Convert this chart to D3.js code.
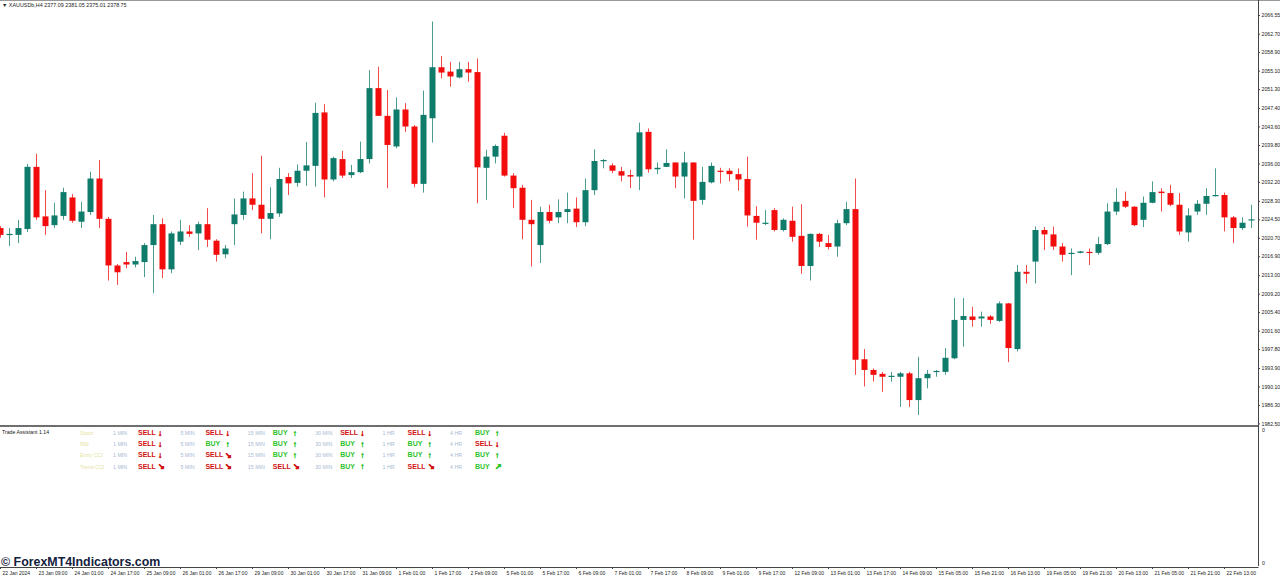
<!DOCTYPE html>
<html>
<head>
<meta charset="utf-8">
<script src="https://cdn.jsdelivr.net/npm/d3@7"></script>
<style>
  body { margin: 0; background: #fff; }
  svg { display: block; }
  text { font-family: "Liberation Sans", Arial, sans-serif; }
</style>
</head>
<body>
<svg id="chart" width="1280" height="577"></svg>
<script>
// XAUUSDb H4 candles
const opens = [2022.7,2021.4,2021.3,2022.5,2035.3,2025.1,2023.3,2025.2,2029.0,2024.0,
  2026.0,2032.9,2024.6,2015.0,2015.7,2015.2,2015.7,2019.2,2023.5,2014.2,
  2019.9,2022.0,2021.6,2023.5,2020.1,2017.3,2023.5,2025.4,2028.8,2027.5,
  2024.6,2025.7,2033.2,2032.0,2034.5,2035.5,2046.5,2032.7,2036.9,2033.6,
  2034.2,2036.9,2051.5,2045.8,2039.5,2047.1,2043.6,2031.8,2045.3,2055.8,
  2054.9,2053.7,2055.4,2054.8,2035.1,2037.4,2041.7,2033.5,2031.0,2024.4,
  2019.2,2026.0,2024.9,2026.0,2026.7,2023.9,2030.5,2036.5,2035.6,2034.4,
  2033.6,2033.3,2042.5,2034.8,2035.3,2036.2,2033.3,2036.2,2028.5,2032.1,
  2034.5,2034.5,2033.8,2032.8,2025.2,2023.6,2026.4,2022.3,2024.2,2021.1,
  2014.9,2021.5,2019.6,2018.9,2023.7,2026.6,1995.7,1993.5,1992.7,1992.2,
  1992.1,1992.8,1987.3,1991.8,1993.1,1993.1,1995.9,2003.8,2004.5,2004.1,
  2004.5,2003.6,2007.2,1997.8,2013.7,2015.8,2022.3,2021.4,2018.9,2017.4,
  2017.6,2017.8,2017.6,2019.4,2026.1,2028.3,2027.1,2024.4,2027.9,2030.2,
  2029.9,2027.5,2021.8,2026.1,2027.7,2029.3,2029.5,2024.9,2022.7,2024.4];
const highs = [2023.1,2022.7,2024.4,2035.9,2038.0,2030.5,2027.9,2031.0,2029.7,2028.1,
  2034.3,2036.7,2025.0,2015.3,2017.8,2016.8,2019.6,2025.4,2024.7,2022.0,
  2024.4,2023.3,2024.0,2026.8,2020.4,2019.2,2028.8,2030.2,2034.0,2037.6,
  2031.1,2035.1,2034.0,2035.8,2040.4,2048.5,2048.2,2037.4,2038.6,2035.7,
  2040.5,2055.2,2055.9,2051.1,2049.6,2048.4,2043.9,2051.0,2065.2,2058.1,
  2056.9,2056.9,2056.9,2057.6,2038.8,2039.9,2042.3,2034.0,2031.6,2028.5,
  2027.1,2027.5,2028.6,2030.0,2029.0,2032.9,2038.9,2036.9,2036.0,2035.3,
  2034.7,2044.4,2043.2,2036.2,2038.9,2036.2,2038.4,2036.2,2035.3,2036.2,
  2035.1,2035.0,2035.0,2037.4,2027.2,2026.4,2026.8,2024.7,2027.1,2027.6,
  2021.6,2021.7,2021.3,2024.4,2028.1,2032.9,1997.8,1993.8,1993.1,1993.1,
  1993.1,1993.1,1996.2,1993.5,1993.5,1998.0,2008.3,2008.3,2006.5,2005.5,
  2004.8,2007.6,2007.3,2015.1,2015.1,2023.0,2022.9,2023.0,2019.6,2018.5,
  2018.0,2018.5,2020.9,2027.8,2030.9,2030.2,2027.2,2029.2,2032.3,2030.9,
  2031.6,2029.9,2026.8,2028.5,2030.9,2035.0,2030.0,2025.2,2024.9,2027.5];
const lows = [2020.7,2019.0,2019.6,2021.9,2024.4,2021.3,2022.7,2024.4,2023.8,2022.7,
  2025.4,2022.7,2011.9,2011.0,2014.4,2014.6,2012.6,2009.3,2012.4,2013.4,
  2019.2,2020.9,2018.2,2018.8,2015.8,2016.5,2019.2,2024.4,2026.4,2021.6,
  2020.4,2025.0,2029.5,2031.2,2031.4,2031.2,2029.0,2032.3,2033.0,2033.0,
  2034.0,2036.0,2045.8,2030.9,2039.1,2042.5,2031.1,2030.0,2040.3,2053.5,
  2051.8,2053.5,2052.8,2027.8,2028.5,2036.0,2033.3,2026.8,2020.4,2014.8,
  2015.5,2023.7,2023.7,2023.7,2022.9,2023.1,2029.5,2035.0,2034.0,2032.3,
  2030.9,2030.5,2034.1,2033.8,2035.3,2030.9,2028.8,2020.3,2027.5,2031.9,
  2031.9,2032.3,2030.4,2023.0,2020.3,2023.3,2022.0,2022.0,2019.9,2013.3,
  2011.9,2018.8,2018.3,2016.8,2023.3,1992.5,1990.1,1991.1,1989.0,1991.1,
  1985.9,1985.9,1984.2,1989.7,1992.1,1992.5,1995.7,1998.3,2002.4,2002.4,
  2003.0,2003.4,1995.1,1997.3,2011.3,2011.3,2018.2,2018.2,2015.8,2013.0,
  2017.5,2015.1,2017.2,2019.2,2025.4,2026.8,2023.1,2022.9,2027.8,2026.1,
  2027.2,2021.3,2019.9,2025.4,2025.4,2029.2,2022.0,2019.6,2022.3,2022.7];
const closes = [2021.3,2021.5,2022.7,2035.3,2024.9,2023.1,2025.3,2030.1,2024.2,2026.1,
  2032.9,2024.6,2015.0,2013.6,2015.2,2015.9,2019.2,2023.5,2014.2,2021.6,
  2022.0,2021.5,2023.5,2020.3,2017.2,2018.5,2025.5,2028.8,2027.5,2024.6,
  2025.8,2032.8,2031.9,2034.5,2035.6,2046.4,2032.7,2037.1,2033.5,2034.2,
  2036.9,2051.5,2045.8,2039.8,2047.1,2043.6,2031.8,2046.0,2055.8,2054.7,
  2053.9,2055.4,2054.7,2035.2,2037.4,2039.6,2033.5,2030.9,2024.4,2023.5,
  2026.0,2024.2,2026.0,2026.6,2023.9,2030.5,2036.5,2036.7,2034.5,2033.5,
  2033.3,2042.4,2034.8,2035.1,2036.1,2033.3,2036.2,2028.3,2032.2,2035.5,
  2034.3,2033.8,2032.7,2025.3,2023.8,2023.8,2022.3,2024.4,2020.9,2014.9,
  2021.5,2019.9,2018.8,2023.7,2026.6,1995.6,1993.5,1992.5,1992.1,1992.3,
  1992.8,1987.3,1991.8,1992.7,1993.3,1996.0,2003.8,2004.6,2003.8,2004.5,
  2003.8,2007.2,1998.0,2013.7,2013.3,2022.3,2021.4,2018.9,2017.2,2017.6,
  2017.9,2017.6,2019.4,2026.1,2028.1,2027.1,2023.3,2027.9,2030.1,2029.9,
  2027.5,2022.0,2025.3,2027.7,2029.3,2029.5,2024.9,2022.7,2023.8,2024.5];

// one label every 4 bars
const timeLabels = ["22 Jan 2024","23 Jan 09:00","24 Jan 01:00","24 Jan 17:00","25 Jan 09:00",
  "26 Jan 01:00","26 Jan 17:00","29 Jan 09:00","30 Jan 01:00","30 Jan 17:00","31 Jan 09:00",
  "1 Feb 01:00","1 Feb 17:00","2 Feb 09:00","5 Feb 01:00","5 Feb 17:00","6 Feb 09:00",
  "7 Feb 01:00","7 Feb 17:00","8 Feb 09:00","9 Feb 01:00","9 Feb 17:00","12 Feb 09:00",
  "13 Feb 01:00","13 Feb 17:00","14 Feb 09:00","15 Feb 05:00","15 Feb 21:00","16 Feb 13:00",
  "19 Feb 05:00","19 Feb 21:00","20 Feb 13:00","21 Feb 05:00","21 Feb 21:00","22 Feb 13:00"];

const priceTicks = [1982.50,1986.30,1990.10,1993.90,1997.80,2001.60,2005.40,2009.20,2013.00,
  2016.90,2020.70,2024.50,2028.30,2032.20,2036.00,2039.80,2043.60,2047.40,2051.30,2055.10,
  2058.90,2062.70,2066.55];

// Trade Assistant panel
const tfLabels = ["1 MIN","5 MIN","15 MIN","30 MIN","1 HR","4 HR"];
const indNames = ["Stoch","RSI","Entry CCI","Trend CCI"];
const signals = [
  ["SELL","SELL","BUY","SELL","SELL","BUY"],
  ["SELL","BUY","BUY","BUY","BUY","SELL"],
  ["SELL","SELL","BUY","BUY","BUY","BUY"],
  ["SELL","SELL","SELL","BUY","SELL","BUY"]];
const arrows = [
  ["\u2193","\u2193","\u2191","\u2193","\u2193","\u2191"],
  ["\u2193","\u2191","\u2191","\u2191","\u2191","\u2193"],
  ["\u2193","\u2198","\u2191","\u2191","\u2191","\u2191"],
  ["\u2198","\u2198","\u2198","\u2191","\u2198","\u2197"]];

const bull = "#0f7b6a", bear = "#f20c0c";
const axisX = 1258, mainBottom = 426, subBottom = 566;

const svg = d3.select("#chart");

const x = d3.scaleLinear().domain([0, opens.length - 1]).range([0, 1251]);
const y = d3.scaleLinear().domain([1982.5, 2062.7]).range([423.4, 33.7]);

const bars = opens.map((o, i) => ({i, o, h: highs[i], l: lows[i], c: closes[i]}));

// frame
svg.append("line").attr("x1", 0).attr("x2", 1280).attr("y1", 0.5).attr("y2", 0.5)
  .attr("stroke", "#999");
svg.append("line").attr("x1", axisX + 0.5).attr("x2", axisX + 0.5).attr("y1", 0).attr("y2", subBottom)
  .attr("stroke", "#444");

// candles
const plot = svg.append("g");
plot.selectAll(".wick").data(bars).enter().append("line")
  .attr("x1", d => Math.round(x(d.i)) + 0.5)
  .attr("x2", d => Math.round(x(d.i)) + 0.5)
  .attr("y1", d => y(d.h))
  .attr("y2", d => y(d.l))
  .attr("stroke", d => d.c >= d.o ? bull : bear)
  .attr("stroke-opacity", 0.75);

plot.selectAll(".body").data(bars).enter().append("rect")
  .attr("x", d => Math.round(x(d.i)) - 2.5)
  .attr("y", d => y(Math.max(d.o, d.c)))
  .attr("width", 6)
  .attr("height", d => Math.max(1.2, Math.abs(y(d.o) - y(d.c))))
  .attr("fill", d => d.c >= d.o ? bull : bear);

// price axis
const yAxis = svg.append("g")
  .attr("transform", `translate(${axisX},0)`)
  .call(d3.axisRight(y).tickValues(priceTicks).tickFormat(d3.format(".2f")).tickSize(2).tickPadding(1.5));
yAxis.select(".domain").remove();
yAxis.selectAll("line").attr("stroke", "#444");
yAxis.selectAll("text").attr("font-size", 5.2).attr("fill", "#222");

// separator between main chart and sub window
svg.append("rect").attr("x", 0).attr("y", mainBottom - 1).attr("width", axisX).attr("height", 2)
  .attr("fill", "#6e6e6e");

// sub window zero labels
svg.selectAll(".zero").data([430, 563]).enter().append("text")
  .attr("x", 1262).attr("y", d => d).attr("dy", "0.35em")
  .attr("font-size", 5.2).attr("fill", "#222").text("0");

// time axis
const xAxis = svg.append("g")
  .attr("transform", `translate(0,${subBottom + 1})`)
  .call(d3.axisBottom(x).tickValues(timeLabels.map((t, k) => k * 4))
    .tickFormat(i => timeLabels[i / 4]).tickSize(2).tickPadding(2));
xAxis.select(".domain").attr("d", `M0,0.5H${axisX + 0.5}`).attr("stroke", "#444");
xAxis.selectAll("line").attr("stroke", "#444");
xAxis.selectAll("text").attr("text-anchor", "start").attr("dx", 2)
  .attr("font-size", 5).attr("fill", "#222");

// header
svg.append("text").attr("x", 2).attr("y", 7).attr("font-size", 5.4).attr("fill", "#222")
  .text("\u25BC  XAUUSDb,H4  2377.09 2381.05 2375.01 2378.75");

// Trade Assistant panel
svg.append("text").attr("x", 2).attr("y", 434).attr("font-size", 5.2).attr("fill", "#222")
  .text("Trade Assistant 1.14");

const col = d3.scaleLinear().domain([0, tfLabels.length - 1]).range([113, 450]);
const row = d3.scaleLinear().domain([0, indNames.length - 1]).range([435, 468.5]);

const panel = svg.append("g");
panel.selectAll(".ind").data(indNames).enter().append("text")
  .attr("x", 80).attr("y", (d, r) => row(r))
  .attr("font-size", 5.3).attr("fill", "#e4dfa0").text(d => d);

signals.forEach((sig, r) => {
  const g = panel.append("g");
  g.selectAll(".tf").data(tfLabels).enter().append("text")
    .attr("x", (d, j) => col(j)).attr("y", row(r))
    .attr("font-size", 5.3).attr("fill", "#a9b9d3").text(d => d);
  g.selectAll(".sig").data(sig).enter().append("text")
    .attr("x", (d, j) => col(j) + 25).attr("y", row(r))
    .attr("font-size", 7).attr("font-weight", "bold")
    .attr("fill", d => d === "BUY" ? "#2fc42f" : "#d01010").text(d => d);
  g.selectAll(".arr").data(arrows[r]).enter().append("text")
    .attr("x", (d, j) => col(j) + 45).attr("y", row(r) + 0.5)
    .attr("font-size", 8).attr("font-weight", "bold")
    .attr("font-family", "DejaVu Sans, sans-serif")
    .attr("stroke-width", 0.5)
    .attr("stroke", (d, j) => sig[j] === "BUY" ? "#2fc42f" : "#d01010")
    .attr("fill", (d, j) => sig[j] === "BUY" ? "#2fc42f" : "#d01010").text(d => d);
});

// watermark
svg.append("text").attr("x", 1).attr("y", 566).attr("font-size", 12.4).attr("font-weight", "bold")
  .attr("fill", "#14213d")
  .text("\u00A9 ForexMT4Indicators.com");
</script>
</body>
</html>
